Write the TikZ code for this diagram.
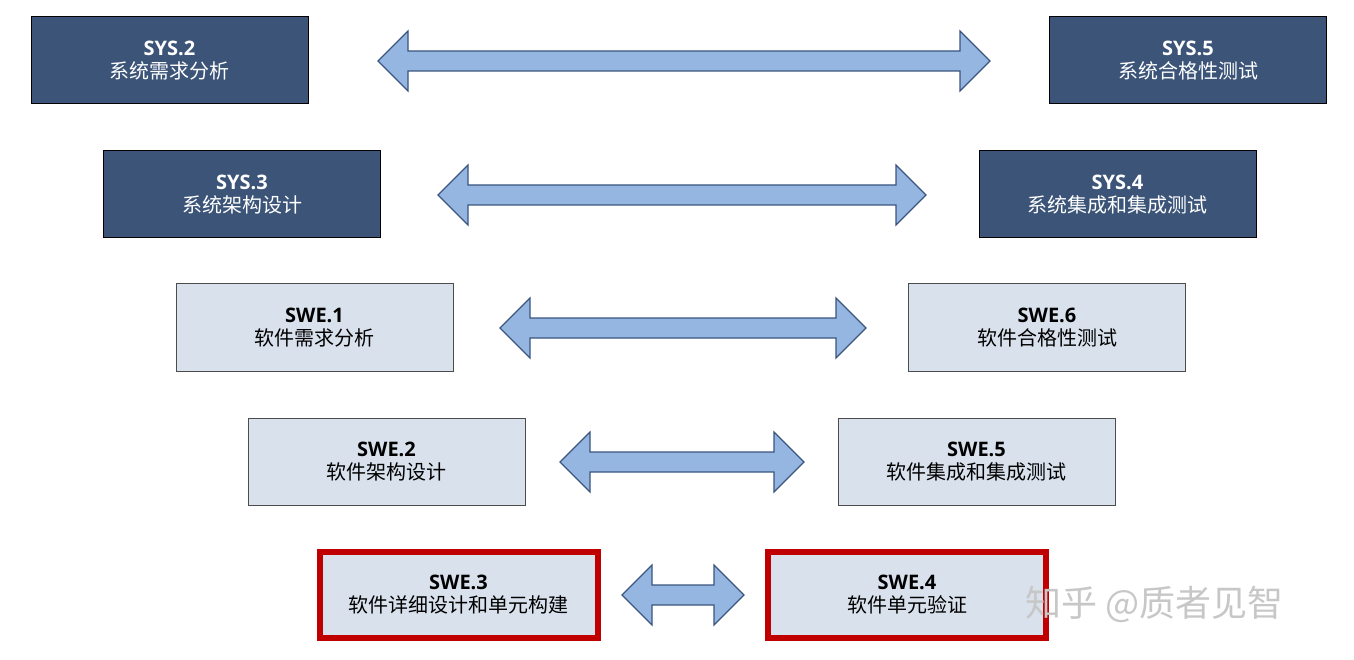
\documentclass[tikz,border=0pt]{standalone}
\usepackage{fontspec}
\setmainfont{Open Sans}
\newfontfamily\cjk{Noto Sans CJK SC}
\definecolor{navy}{HTML}{3B5478}
\definecolor{pale}{HTML}{D9E1EC}
\definecolor{arr}{HTML}{95B6E0}
\definecolor{arrl}{HTML}{3A5580}
\definecolor{redb}{HTML}{C00000}
\tikzset{
 dark/.style={draw=black,line width=1pt,fill=navy,text=white,minimum width=277pt,minimum height=87pt,align=center,font=\fontsize{20}{22}\selectfont},
 light/.style={draw=black!70,line width=1pt,fill=pale,text=black,minimum width=277pt,minimum height=87pt,align=center,font=\fontsize{20}{22}\selectfont},
 redbox/.style={draw=redb,line width=6pt,fill=pale,text=black,minimum width=278pt,minimum height=86pt,align=center,font=\fontsize{20}{22}\selectfont},
 dbl/.style={draw=arrl,line width=1.2pt,fill=arr}
}
\newcommand{\lab}[2]{{\bfseries #1}\\[1pt]{\cjk #2}}
\newcommand{\dblarrow}[3]{% xa xb y
 \draw[dbl] (#1,#3) -- (#1+30,#3-30) -- (#1+30,#3-10) -- (#2-30,#3-10) -- (#2-30,#3-30) -- (#2,#3) -- (#2-30,#3+30) -- (#2-30,#3+10) -- (#1+30,#3+10) -- (#1+30,#3+30) -- cycle;}
\begin{document}
\begin{tikzpicture}[x=1pt,y=-1pt]
\useasboundingbox (0,0) rectangle (1354,660);
\node[dark] (s2) at (169.5,60.5) {\lab{SYS.2}{系统需求分析}};
\node[dark] (s5) at (1188,60.5) {\lab{SYS.5}{系统合格性测试}};
\node[dark] (s3) at (242,194.5) {\lab{SYS.3}{系统架构设计}};
\node[dark] (s4) at (1117.5,194.5) {\lab{SYS.4}{系统集成和集成测试}};
\node[light] (w1) at (314.5,327.5) {\lab{SWE.1}{软件需求分析}};
\node[light] (w6) at (1047,327.5) {\lab{SWE.6}{软件合格性测试}};
\node[light] (w2) at (386.5,461.5) {\lab{SWE.2}{软件架构设计}};
\node[light] (w5) at (976.5,461.5) {\lab{SWE.5}{软件集成和集成测试}};
\node[redbox] (w3) at (458.5,594.5) {\lab{SWE.3}{软件详细设计和单元构建}};
\node[redbox] (w4) at (907,594.5) {\lab{SWE.4}{软件单元验证}};
\dblarrow{378}{990}{61}
\dblarrow{438}{926}{195}
\dblarrow{500}{866}{328}
\dblarrow{560}{804}{462}
\dblarrow{622}{744}{595}
\node[text=black!22,font=\cjk\fontsize{36}{38}\selectfont,anchor=west] (wm) at (1022,604) {知乎 @质者见智};
\end{tikzpicture}
\end{document}
